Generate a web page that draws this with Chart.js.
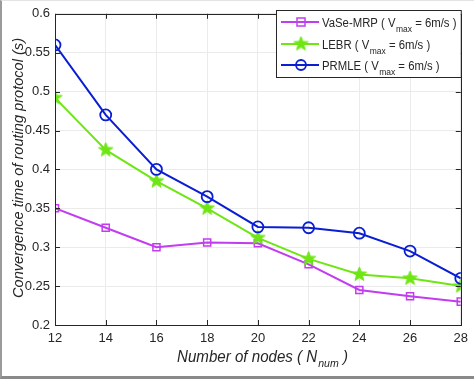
<!DOCTYPE html>
<html><head><meta charset="utf-8">
<script src="https://cdn.jsdelivr.net/npm/chart.js@4/dist/chart.umd.min.js"></script>
<style>
html,body{margin:0;padding:0;background:#fff;}
#wrap{position:relative;width:474px;height:379px;box-sizing:border-box;border-left:2px solid #9a9a9a;border-bottom:3px solid #8a8a8a;border-top:1px solid #e4e4e4;}
canvas{display:block;}
</style></head><body>
<div id="wrap"><canvas id="c" width="472" height="375"></canvas></div>
<script>
const nodes = [12, 14, 16, 18, 20, 22, 24, 26, 28];
const vaseMRP = [0.35, 0.325, 0.300, 0.306, 0.305, 0.278, 0.245, 0.237, 0.230];
const lebr    = [0.492, 0.425, 0.385, 0.350, 0.312, 0.285, 0.265, 0.260, 0.250];
const prmle   = [0.560, 0.470, 0.400, 0.365, 0.326, 0.325, 0.318, 0.295, 0.260];
const yTicks  = [0.2, 0.25, 0.3, 0.35, 0.4, 0.45, 0.5, 0.55, 0.6];
const seriesNames = ['VaSe-MRP', 'LEBR', 'PRMLE'];
const seriesColors = ['#c23cf0', '#6ee614', '#0a1ed2'];

function starImg(color, r){
  const c = document.createElement('canvas');
  const s = Math.ceil(r*2+4); c.width = s; c.height = s;
  const g = c.getContext('2d');
  const cx = s/2, cy = s/2, ri = r*0.42;
  g.beginPath();
  for(let i=0;i<10;i++){
    const a = -Math.PI/2 + i*Math.PI/5;
    const rr = i%2===0 ? r : ri;
    g.lineTo(cx+rr*Math.cos(a), cy+rr*Math.sin(a));
  }
  g.closePath();
  g.fillStyle = color; g.fill();
  g.strokeStyle = color; g.lineWidth = 1; g.stroke();
  return c;
}
const star = starImg(seriesColors[1], 7.5);

const TXT = '#262626';
const FONT = '"Liberation Sans", Arial, sans-serif';

function partsWidth(ctx, parts, style, size, subRatio){
  ctx.font = style + size + 'px ' + FONT;
  const w1 = ctx.measureText(parts[0]).width + ctx.measureText(parts[2]).width;
  ctx.font = style + (size*subRatio) + 'px ' + FONT;
  return w1 + ctx.measureText(parts[1]).width;
}

const overlay = {
  id: 'overlay',
  afterDraw(chart){
    const {ctx, chartArea: a, scales: {x, y}} = chart;
    ctx.save();
    // box
    ctx.strokeStyle = TXT; ctx.lineWidth = 1;
    ctx.strokeRect(Math.round(a.left)+0.5, Math.round(a.top)+0.5, Math.round(a.right-a.left), Math.round(a.bottom-a.top));
    // inward ticks
    const tl = 5;
    ctx.beginPath();
    x.ticks.forEach(t => {
      const px = Math.round(x.getPixelForValue(t.value))+0.5;
      ctx.moveTo(px, a.bottom); ctx.lineTo(px, a.bottom - tl);
      ctx.moveTo(px, a.top); ctx.lineTo(px, a.top + tl);
    });
    y.ticks.forEach(t => {
      const py = Math.round(y.getPixelForValue(t.value))+0.5;
      ctx.moveTo(a.left, py); ctx.lineTo(a.left + tl, py);
      ctx.moveTo(a.right, py); ctx.lineTo(a.right - tl, py);
    });
    ctx.stroke();

    // x title with subscript
    ctx.fillStyle = TXT;
    ctx.textBaseline = 'alphabetic';
    const xp = ['Number of nodes ( N', 'num', ' )'];
    const xs = 16;
    const xsc = 170 / partsWidth(ctx, xp, 'italic ', xs, 0.7);
    ctx.save();
    ctx.translate(175, 361);
    ctx.scale(xsc, 1);
    const f1 = 'italic ' + xs + 'px ' + FONT, f2 = 'italic ' + (xs*0.7) + 'px ' + FONT;
    ctx.font = f1; const w1 = ctx.measureText(xp[0]).width;
    ctx.font = f2; const w2 = ctx.measureText(xp[1]).width;
    ctx.font = f1; ctx.fillText(xp[0], 0, 0);
    ctx.font = f2; ctx.fillText(xp[1], w1 + 1, 5);
    ctx.font = f1; ctx.fillText(xp[2], w1 + w2 + 1, 0);
    ctx.restore();

    // y title
    const yt = 'Convergence time of routing protocol (s)';
    ctx.font = 'italic 15px ' + FONT;
    const ysc = 260 / ctx.measureText(yt).width;
    ctx.save();
    ctx.translate(21, 167);
    ctx.rotate(-Math.PI/2);
    ctx.scale(ysc, 1);
    ctx.textAlign = 'center';
    ctx.fillText(yt, 0, 0);
    ctx.restore();

    // legend
    const lx = 274, ly = 9, lw = a.right - lx, lh = 67;
    ctx.fillStyle = '#fff';
    ctx.fillRect(lx, ly, lw, lh);
    ctx.strokeStyle = TXT; ctx.lineWidth = 1;
    ctx.strokeRect(lx+0.5, ly+0.5, lw, lh);
    const rows = [ly+12, ly+34, ly+55];
    const ls = 12.5;
    const lsc = 134 / partsWidth(ctx, ['VaSe-MRP ( V', 'max', ' = 6m/s )'], '', ls, 0.75);
    chart.data.datasets.forEach((ds, i) => {
      const ry = rows[i];
      ctx.strokeStyle = ds.borderColor; ctx.lineWidth = 2;
      ctx.beginPath(); ctx.moveTo(lx+5, ry); ctx.lineTo(lx+43, ry); ctx.stroke();
      const mx = lx + 25;
      if (i === 0){ ctx.lineWidth = 1.5; ctx.strokeRect(mx-4, ry-4, 8, 8); }
      else if (i === 1){ ctx.drawImage(star, mx - star.width/2, ry - star.height/2); }
      else { ctx.lineWidth = 1.8; ctx.beginPath(); ctx.arc(mx, ry, 5, 0, Math.PI*2); ctx.stroke(); }
      ctx.fillStyle = TXT;
      const g1 = ls + 'px ' + FONT, g2 = (ls*0.75) + 'px ' + FONT;
      const t1 = seriesNames[i] + ' ( V', t2 = 'max', t3 = ' = 6m/s )';
      ctx.save();
      ctx.translate(lx + 46, ry + 5);
      ctx.scale(lsc, 1);
      let tx = 0;
      ctx.font = g1; ctx.fillText(t1, tx, 0); tx += ctx.measureText(t1).width + 0.5;
      ctx.font = g2; ctx.fillText(t2, tx, 5); tx += ctx.measureText(t2).width;
      ctx.font = g1; ctx.fillText(t3, tx, 0);
      ctx.restore();
    });
    ctx.restore();
  }
};

new Chart(document.getElementById('c'), {
  type: 'line',
  data: {
    labels: nodes,
    datasets: [
      { label: seriesNames[0], data: vaseMRP, borderColor: seriesColors[0], backgroundColor: 'rgba(0,0,0,0)',
        borderWidth: 2, pointStyle: 'rect', pointRadius: 5, pointBorderWidth: 1.5, pointBackgroundColor: 'rgba(0,0,0,0)', order: 3 },
      { label: seriesNames[1], data: lebr, borderColor: seriesColors[1], backgroundColor: seriesColors[1],
        borderWidth: 2, pointStyle: star, pointRadius: 8, order: 2 },
      { label: seriesNames[2], data: prmle, borderColor: seriesColors[2], backgroundColor: 'rgba(0,0,0,0)',
        borderWidth: 2, pointStyle: 'circle', pointRadius: 5.5, pointBorderWidth: 1.8, pointBackgroundColor: 'rgba(0,0,0,0)', order: 1 }
    ].map(d => Object.assign(d, {tension: 0, fill: false}))
  },
  options: {
    responsive: false, animation: false, devicePixelRatio: 1,
    layout: { padding: { left: 0, right: 11, top: 10, bottom: 0 } },
    plugins: { legend: { display: false }, tooltip: { enabled: false } },
    scales: {
      x: { type: 'linear', min: 12, max: 28,
        afterBuildTicks: s => { s.ticks = nodes.map(v => ({value: v})); },
        afterFit: s => { s.height = 51; },
        grid: { color: '#ebebeb', drawTicks: false, lineWidth: 1 },
        border: { display: false },
        ticks: { color: TXT, font: { family: FONT, size: 13 }, padding: 6, maxRotation: 0,
          callback: v => String(v) } },
      y: { type: 'linear', min: 0.2, max: 0.6,
        afterBuildTicks: s => { s.ticks = yTicks.map(v => ({value: v})); },
        afterFit: s => { s.width = 53; },
        grid: { color: '#ebebeb', drawTicks: false, lineWidth: 1 },
        border: { display: false },
        ticks: { color: TXT, font: { family: FONT, size: 13 }, padding: 5,
          callback: v => String(Math.round(v*100)/100) } }
    }
  },
  plugins: [overlay]
});
</script>
</body></html>
